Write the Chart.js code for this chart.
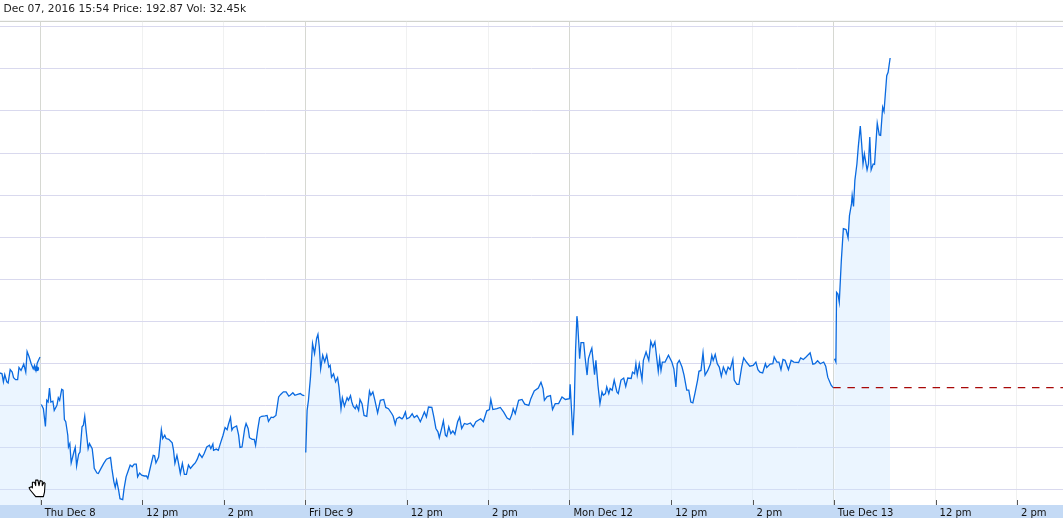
<!DOCTYPE html>
<html>
<head>
<meta charset="utf-8">
<style>html,body{margin:0;padding:0;background:#fff}#w{position:relative;width:1063px;height:518px}</style>
<script src="https://cdn.jsdelivr.net/npm/chart.js@4"></script>
</head>
<body>
<div id="w"><canvas id="c" width="1063" height="518"></canvas></div>
<script>
// Minutes of trading time since the Thu Dec 8 open (one session = 390 minutes)
const minutes = [
-60,-57,-55,-53,-50,-48,-45,-42,-40,-37,-34,-32,-29,-25,-22,-20,-17,-14,-11,-9,-7,-5,-1,
1,4,7,9,11,13,15,18,20,24,26,28,31,33,35,37,40,41,43,45,49,51,53,56,58,61,63,65,67,70,72,76,78,79,83,85,89,93,97,103,105,108,110,112,115,117,121,123,126,129,132,135,138,141,143,146,149,153,156,158,162,166,168,170,174,176,178,180,183,185,189,194,196,198,201,203,206,209,212,215,218,221,225,228,231,234,238,241,245,249,251,254,255,259,262,265,269,272,275,277,280,282,284,289,292,294,297,301,303,306,308,312,315,317,320,323,326,331,334,336,340,343,347,351,354,358,362,366,368,372,375,379,383,386,389,
391,393,395,398,401,404,407,409,411,413,416,419,422,425,427,429,432,435,438,440,443,445,448,452,454,457,459,461,464,466,469,471,474,477,481,485,487,490,493,497,501,506,509,513,518,520,523,525,529,533,535,538,540,544,548,551,555,557,560,563,566,569,572,577,580,583,586,588,592,594,597,599,602,605,608,611,615,618,621,625,629,634,638,642,646,649,653,658,662,664,667,673,678,683,688,692,695,697,700,705,710,714,720,723,728,734,738,741,743,747,752,755,759,764,769,774,780,
781,785,787,789,791,792,795,797,801,803,806,808,811,813,817,819,822,825,828,830,833,835,838,840,843,846,850,852,856,860,863,866,871,873,876,878,880,883,887,889,893,897,900,903,906,911,913,915,917,921,926,931,934,937,939,942,946,949,953,956,959,962,965,969,971,974,977,980,984,988,990,992,995,998,1001,1004,1007,1011,1014,1017,1021,1023,1027,1030,1034,1037,1041,1046,1051,1055,1058,1061,1065,1069,1071,1076,1080,1082,1086,1089,1092,1095,1098,1103,1107,1111,1118,1121,1125,1129,1135,1139,1142,1146,1150,1155,1158,1161,1166,1169,
1171,1173,1174,1176,1178,1181,1184,1188,1191,1193,1196,1197,1199,1201,1204,1206,1209,1211,1213,1215,1219,1221,1223,1225,1228,1230,1234,1237,1239,1242,1244,1248,1250,1253
];
const prices = [
192.77,192.75,192.56,192.73,192.56,192.53,192.85,192.79,192.66,192.61,192.61,192.90,192.83,192.98,192.79,193.28,193.15,192.99,192.87,192.95,192.83,193.01,193.15,
192.02,191.92,191.50,192.12,192.08,192.41,192.08,192.10,191.88,192.00,192.18,192.12,192.38,192.36,191.66,191.61,191.29,191.01,191.09,190.63,190.89,191.00,190.56,190.84,190.89,191.49,191.53,191.74,191.41,190.97,191.09,190.97,190.69,190.50,190.39,190.38,190.50,190.62,190.72,190.76,190.50,190.18,190.05,190.22,189.98,189.78,189.76,190.02,190.30,190.44,190.58,190.54,190.60,190.60,190.30,190.39,190.34,190.32,190.32,190.26,190.54,190.81,190.80,190.63,190.77,191.09,191.42,191.21,191.29,191.21,191.19,191.11,190.93,190.62,190.81,190.65,190.38,190.62,190.36,190.36,190.58,190.50,190.58,190.63,190.72,190.85,190.76,190.85,191.01,191.05,190.97,191.08,190.93,190.96,190.93,191.09,191.29,191.47,191.42,191.55,191.71,191.41,191.47,191.51,191.29,191.00,191.01,191.45,191.57,191.45,191.23,191.19,191.19,191.05,191.41,191.71,191.74,191.75,191.76,191.62,191.72,191.71,191.76,192.20,192.26,192.32,192.32,192.22,192.24,192.30,192.24,192.26,192.28,192.24,192.23,
190.88,191.88,192.12,192.67,193.47,193.23,193.59,193.69,193.39,192.87,193.19,193.03,193.20,192.91,192.95,192.67,192.75,192.56,192.66,192.44,191.92,192.18,191.98,192.18,192.12,192.23,192.08,191.98,191.92,192.00,191.88,192.14,192.04,191.76,191.74,192.34,192.24,192.32,192.12,191.82,192.12,192.14,191.95,191.92,191.80,191.74,191.55,191.68,191.72,191.68,191.72,191.84,191.68,191.71,191.80,191.71,191.76,191.71,191.61,191.72,191.84,191.72,191.96,191.95,191.72,191.45,191.37,191.23,191.49,191.63,191.29,191.26,191.49,191.33,191.39,191.31,191.61,191.72,191.45,191.57,191.55,191.58,191.49,191.61,191.65,191.68,191.61,191.87,191.90,192.14,191.90,191.92,191.95,191.84,191.70,191.66,191.78,191.92,191.80,192.12,192.14,192.03,192.00,192.16,192.34,192.41,192.55,192.40,192.12,192.21,192.23,191.90,192.04,192.04,192.20,192.14,192.16,
192.50,191.29,191.96,193.31,194.12,193.98,193.11,193.49,193.49,193.15,192.72,193.11,193.27,193.36,192.73,193.07,192.48,192.04,192.32,192.24,192.28,192.44,192.28,192.40,192.36,192.60,192.32,192.28,192.60,192.65,192.45,192.65,192.64,192.79,192.75,192.99,192.72,192.99,192.61,193.07,193.27,193.07,193.52,193.39,193.51,192.81,193.11,192.83,193.03,193.03,193.19,193.03,192.87,192.44,192.99,193.07,192.91,192.72,192.36,192.36,192.08,192.06,192.28,192.60,192.81,192.83,193.25,192.72,192.83,192.99,193.19,193.07,193.21,192.99,192.91,192.69,192.91,192.75,192.91,192.85,193.09,192.60,192.50,192.50,192.91,193.13,193.03,192.93,192.95,193.03,192.85,192.79,192.77,192.99,192.90,192.98,192.99,193.15,193.03,193.03,192.85,193.09,193.07,192.85,193.07,193.03,193.02,193.13,193.09,193.15,193.25,192.98,192.99,193.06,192.99,193.03,192.93,192.67,192.48,192.42,
193.11,193.03,194.69,194.65,194.45,195.44,196.20,196.18,195.98,196.51,196.79,196.99,196.73,197.35,197.74,198.14,198.64,198.22,197.74,197.98,197.60,197.74,198.38,197.60,197.74,197.73,198.71,198.43,198.42,199.09,198.99,199.84,199.92,200.26
];
const gapAt = [0, 390, 1170];            // sessions that do not join on the line
const previousClose = 192.42;
const previousCloseFrom = 1169;
const hoverMinute = -6;
const hoverPrice = 192.87;
const majorTicks = [0, 390, 780, 1170];
const tickValues = [0,150,270,390,540,660,780,930,1050,1170,1320,1440];
const tickLabels = ["Thu Dec 8","12 pm","2 pm","Fri Dec 9","12 pm","2 pm","Mon Dec 12","12 pm","2 pm","Tue Dec 13","12 pm","2 pm"];
const priceTicks = [190,191,192,193,194,195,196,197,198,199,200,201];
const header = "Dec 07, 2016 15:54 Price: 192.87 Vol: 32.45k";
const X_MIN = -60, X_MAX = 1508, Y_MIN = 189.63, Y_MAX = 201.12;

const furniture = {
  id:'furniture',
  beforeDraw(chart){
    const {ctx, chartArea:a, width, height} = chart;
    ctx.save();
    ctx.fillStyle='#c4daf5';
    ctx.fillRect(0,a.bottom,width,height-a.bottom);
    ctx.fillStyle='#c9cbc4';
    ctx.fillRect(0,a.top-1,width,1);
    ctx.restore();
  },
  afterDraw(chart){
    const {ctx, chartArea:a, scales:{x}} = chart;
    ctx.save();
    ctx.strokeStyle='#555';
    ctx.lineWidth=1;
    tickValues.forEach(v=>{
      const p=Math.round(x.getPixelForValue(v))+0.5;
      ctx.beginPath();ctx.moveTo(p,a.bottom-5);ctx.lineTo(p,a.bottom);ctx.stroke();
    });
    // pointer hand left on the picture
    ctx.translate(28,479);
    ctx.scale(1.1,1.1);
    ctx.fillStyle='#fff';ctx.strokeStyle='#000';ctx.lineWidth=1;ctx.lineJoin='round';
    ctx.beginPath();
    ctx.moveTo(7,16);ctx.lineTo(2,10);ctx.lineTo(1,8);ctx.lineTo(3,7);ctx.lineTo(4,8);
    ctx.lineTo(4,3);ctx.lineTo(6,3);ctx.lineTo(7,6);ctx.lineTo(7,1);ctx.lineTo(9,1);ctx.lineTo(10,6);
    ctx.lineTo(11,1.5);ctx.lineTo(13,2);ctx.lineTo(13,6);ctx.lineTo(14.5,3);ctx.lineTo(15.5,4);
    ctx.lineTo(15,12);ctx.lineTo(14,16);ctx.closePath();
    ctx.fill();ctx.stroke();
    ctx.restore();
  }
};

new Chart(document.getElementById('c'),{
  type:'line',
  plugins:[furniture],
  data:{datasets:[
    {
      data:minutes.map((m,i)=>({x:m,y:prices[i]})),
      borderColor:'#0a6ae0',borderWidth:1.3,pointRadius:0,tension:0,
      fill:'start',backgroundColor:'rgba(200,228,255,0.36)',
      segment:{borderColor:c=>gapAt.some(g=>c.p0.parsed.x<g&&c.p1.parsed.x>g)?'transparent':undefined},
      order:2
    },
    {
      data:[{x:previousCloseFrom,y:previousClose},{x:X_MAX,y:previousClose}],
      borderColor:'#a80808',borderWidth:1.3,borderDash:[7.5,6.7],pointRadius:0,fill:false,order:1
    },
    {
      data:[{x:hoverMinute,y:hoverPrice}],
      showLine:false,pointRadius:2.5,pointBackgroundColor:'#0a6ae0',pointBorderWidth:0,order:0
    }
  ]},
  options:{
    responsive:false,animation:false,
    layout:{padding:0,autoPadding:false},
    events:[],
    plugins:{
      legend:{display:false},tooltip:{enabled:false},
      title:{display:true,text:'\u00a0'+header,align:'start',color:'#222',
        font:{family:'"DejaVu Sans"',size:10.7,weight:'normal'},padding:{top:3,bottom:6}}
    },
    scales:{
      x:{
        type:'linear',min:X_MIN,max:X_MAX,
        afterBuildTicks:s=>{s.ticks=tickValues.map(v=>({value:v}));},
        afterFit:s=>{s.height=13;s.paddingLeft=0;s.paddingRight=0;},
        border:{display:false},
        grid:{drawTicks:false,color:c=>majorTicks.includes(c.tick.value)?'#d6d8d2':'#f0f1f1',lineWidth:1},
        ticks:{autoSkip:false,maxRotation:0,minRotation:0,align:'start',padding:2,labelOffset:4,
          color:'#111',font:{family:'"DejaVu Sans"',size:10},
          callback:(v,i)=>tickLabels[i]}
      },
      y:{
        type:'linear',min:Y_MIN,max:Y_MAX,
        afterBuildTicks:s=>{s.ticks=priceTicks.map(v=>({value:v}));},
        afterFit:s=>{s.width=0;},
        border:{display:false},
        grid:{drawTicks:false,color:'#d9d9ee',lineWidth:1},
        ticks:{display:false}
      }
    }
  }
});
</script>
</body>
</html>
